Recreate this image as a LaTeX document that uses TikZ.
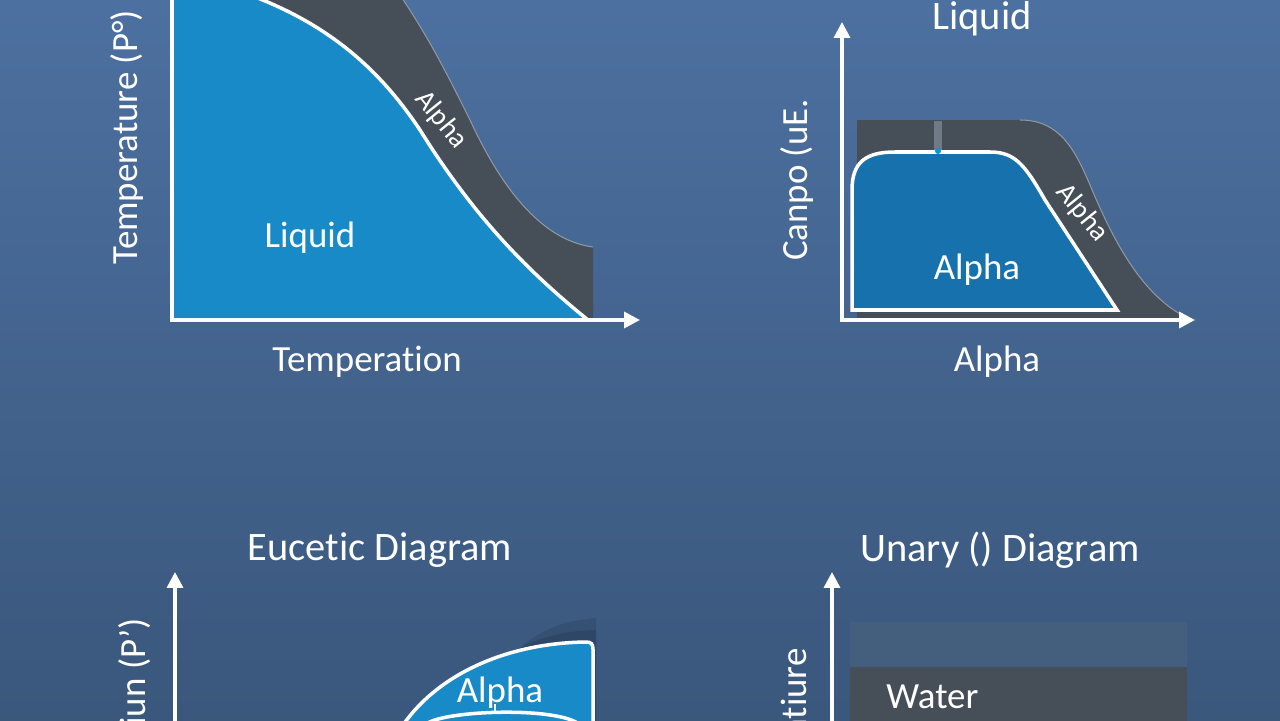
\documentclass[tikz,border=0pt]{standalone}
\usepackage{fontspec}
\setmainfont[Ligatures=NoCommon]{Carlito}
\usetikzlibrary{arrows.meta}
\definecolor{bgtop}{RGB}{76,112,160}
\definecolor{bgbot}{RGB}{58,87,124}
\definecolor{liqblue}{RGB}{24,138,200}
\definecolor{alfblue}{RGB}{22,113,172}
\definecolor{bandgray}{RGB}{70,78,87}
\definecolor{edgegray}{RGB}{140,152,166}
\definecolor{paleband}{RGB}{68,95,126}
\begin{document}
\begin{tikzpicture}[x=0.02cm,y=-0.02cm]
        \tikzstyle{every node}=[text=white,inner sep=0pt]
        \tikzstyle{axis}=[draw=white,line width=2pt,-{Triangle[length=9pt,width=9pt]}]
        \tikzstyle{rim}=[draw=white,line width=2pt]
        \tikzstyle{lbl}=[font=\fontsize{21}{24}\selectfont]
        \tikzstyle{ttl}=[font=\fontsize{23}{27}\selectfont]
        \tikzstyle{band}=[font=\fontsize{16}{19}\selectfont,rotate=-51]
        \useasboundingbox (0,0) rectangle (1280,720);
        \shade[top color=bgtop,bottom color=bgbot] (0,0) rectangle (1280,720);

        % top left panel
        \fill[bandgray] (172,-5) -- (400,-5) .. controls (430,40) and (445,70) .. (470,120) .. controls (500,185) and (540,240) .. (593,247) -- (593,320) -- (172,320) -- cycle;
        \draw[edgegray,line width=0.6pt] (400,-5) .. controls (430,40) and (445,70) .. (470,120) .. controls (500,185) and (540,240) .. (593,247);
        \fill[liqblue] (172,-5) -- (250,-5) .. controls (330,25) and (380,70) .. (420,130) .. controls (470,210) and (520,265) .. (588,320) -- (172,320) -- cycle;
        \draw[rim] (250,-5) .. controls (330,25) and (380,70) .. (420,130) .. controls (470,210) and (520,265) .. (588,320);
        \coordinate (ya) at (172,-10);
        \coordinate (oa) at (172,320);
        \coordinate (xa) at (640,320);
        \draw[axis] (ya) -- (oa) -- (xa);
        \node[lbl] (liqa) at (310,238) {Liquid};
        \node[band] (alfa) at (441,120) {Alpha};
        \node[lbl] (xlaba) at (367,362) {Temperation};
        \node[lbl,rotate=90,anchor=west] (ylaba) at (127,265) {Temperature (P°)};

        % top right panel
        \fill[bandgray] (857,120) -- (1020,120) .. controls (1060,120) and (1075,150) .. (1090,185) .. controls (1115,245) and (1145,300) .. (1192,320) -- (857,320) -- cycle;
        \draw[edgegray,line width=0.6pt] (1020,120) .. controls (1060,120) and (1075,150) .. (1090,185) .. controls (1115,245) and (1145,300) .. (1192,320);
        \draw[edgegray!60!bandgray,line width=5pt] (938,121) -- (938,150);
        \filldraw[fill=alfblue,rim] (852,310) -- (852,190) .. controls (852,162) and (866,152) .. (895,152) -- (990,152) .. controls (1015,152) and (1025,165) .. (1045,200) -- (1117,310) -- cycle;
        \fill[cyan!80!blue] (938,151) circle (3);
        \coordinate (yb) at (842,22);
        \coordinate (ob) at (842,320);
        \coordinate (xb) at (1195,320);
        \draw[axis,{Triangle[length=9pt,width=9pt]}-{Triangle[length=9pt,width=9pt]}] (yb) -- (ob) -- (xb);
        \node[ttl] (ttlb) at (982,19) {Liquid};
        \node[lbl] (alfb) at (977,270) {Alpha};
        \node[band] (bandb) at (1082,213) {Alpha};
        \node[lbl] (xlabb) at (997,362) {Alpha};
        \node[lbl,rotate=90] (ylabb) at (797,180) {Canpo (uE.};

        % bottom left panel
        \fill[black,opacity=0.10] (470,725) .. controls (500,650) and (540,622) .. (596,618) -- (596,725) -- cycle;
        \fill[black,opacity=0.10] (450,725) .. controls (490,655) and (530,632) .. (596,630) -- (596,725) -- cycle;
        \filldraw[fill=liqblue,rim] (403,725) .. controls (440,672) and (510,643) .. (586,642) .. controls (591,642) and (593,644) .. (593,649) -- (593,725) -- cycle;
        \draw[rim] (425,725) .. controls (440,710) and (560,706) .. (580,725);
        \draw[white,line width=1pt] (495,704) -- (495,713);
        \coordinate (oc) at (175,725);
        \coordinate (yc) at (175,572);
        \draw[axis] (oc) -- (yc);
        \node[ttl] (ttlc) at (380,550) {Eucetic Diagram};
        \node[lbl] (alfc) at (500,693) {Alpha};
        \node[lbl,rotate=90,anchor=east] (ylabc) at (135,618) {Compositiun (P')};

        % bottom right panel
        \fill[paleband] (850,622) rectangle (1187,667);
        \fill[bandgray] (850,667) rectangle (1187,725);
        \coordinate (od) at (832,725);
        \coordinate (yd) at (832,572);
        \draw[axis] (od) -- (yd);
        \node[ttl] (ttld) at (1000,550) {Unary () Diagram};
        \node[lbl,anchor=west] (watd) at (886,697) {Water};
        \node[lbl,rotate=90,anchor=east] (ylabd) at (797,648) {Temperatiure};
\end{tikzpicture}
\end{document}
